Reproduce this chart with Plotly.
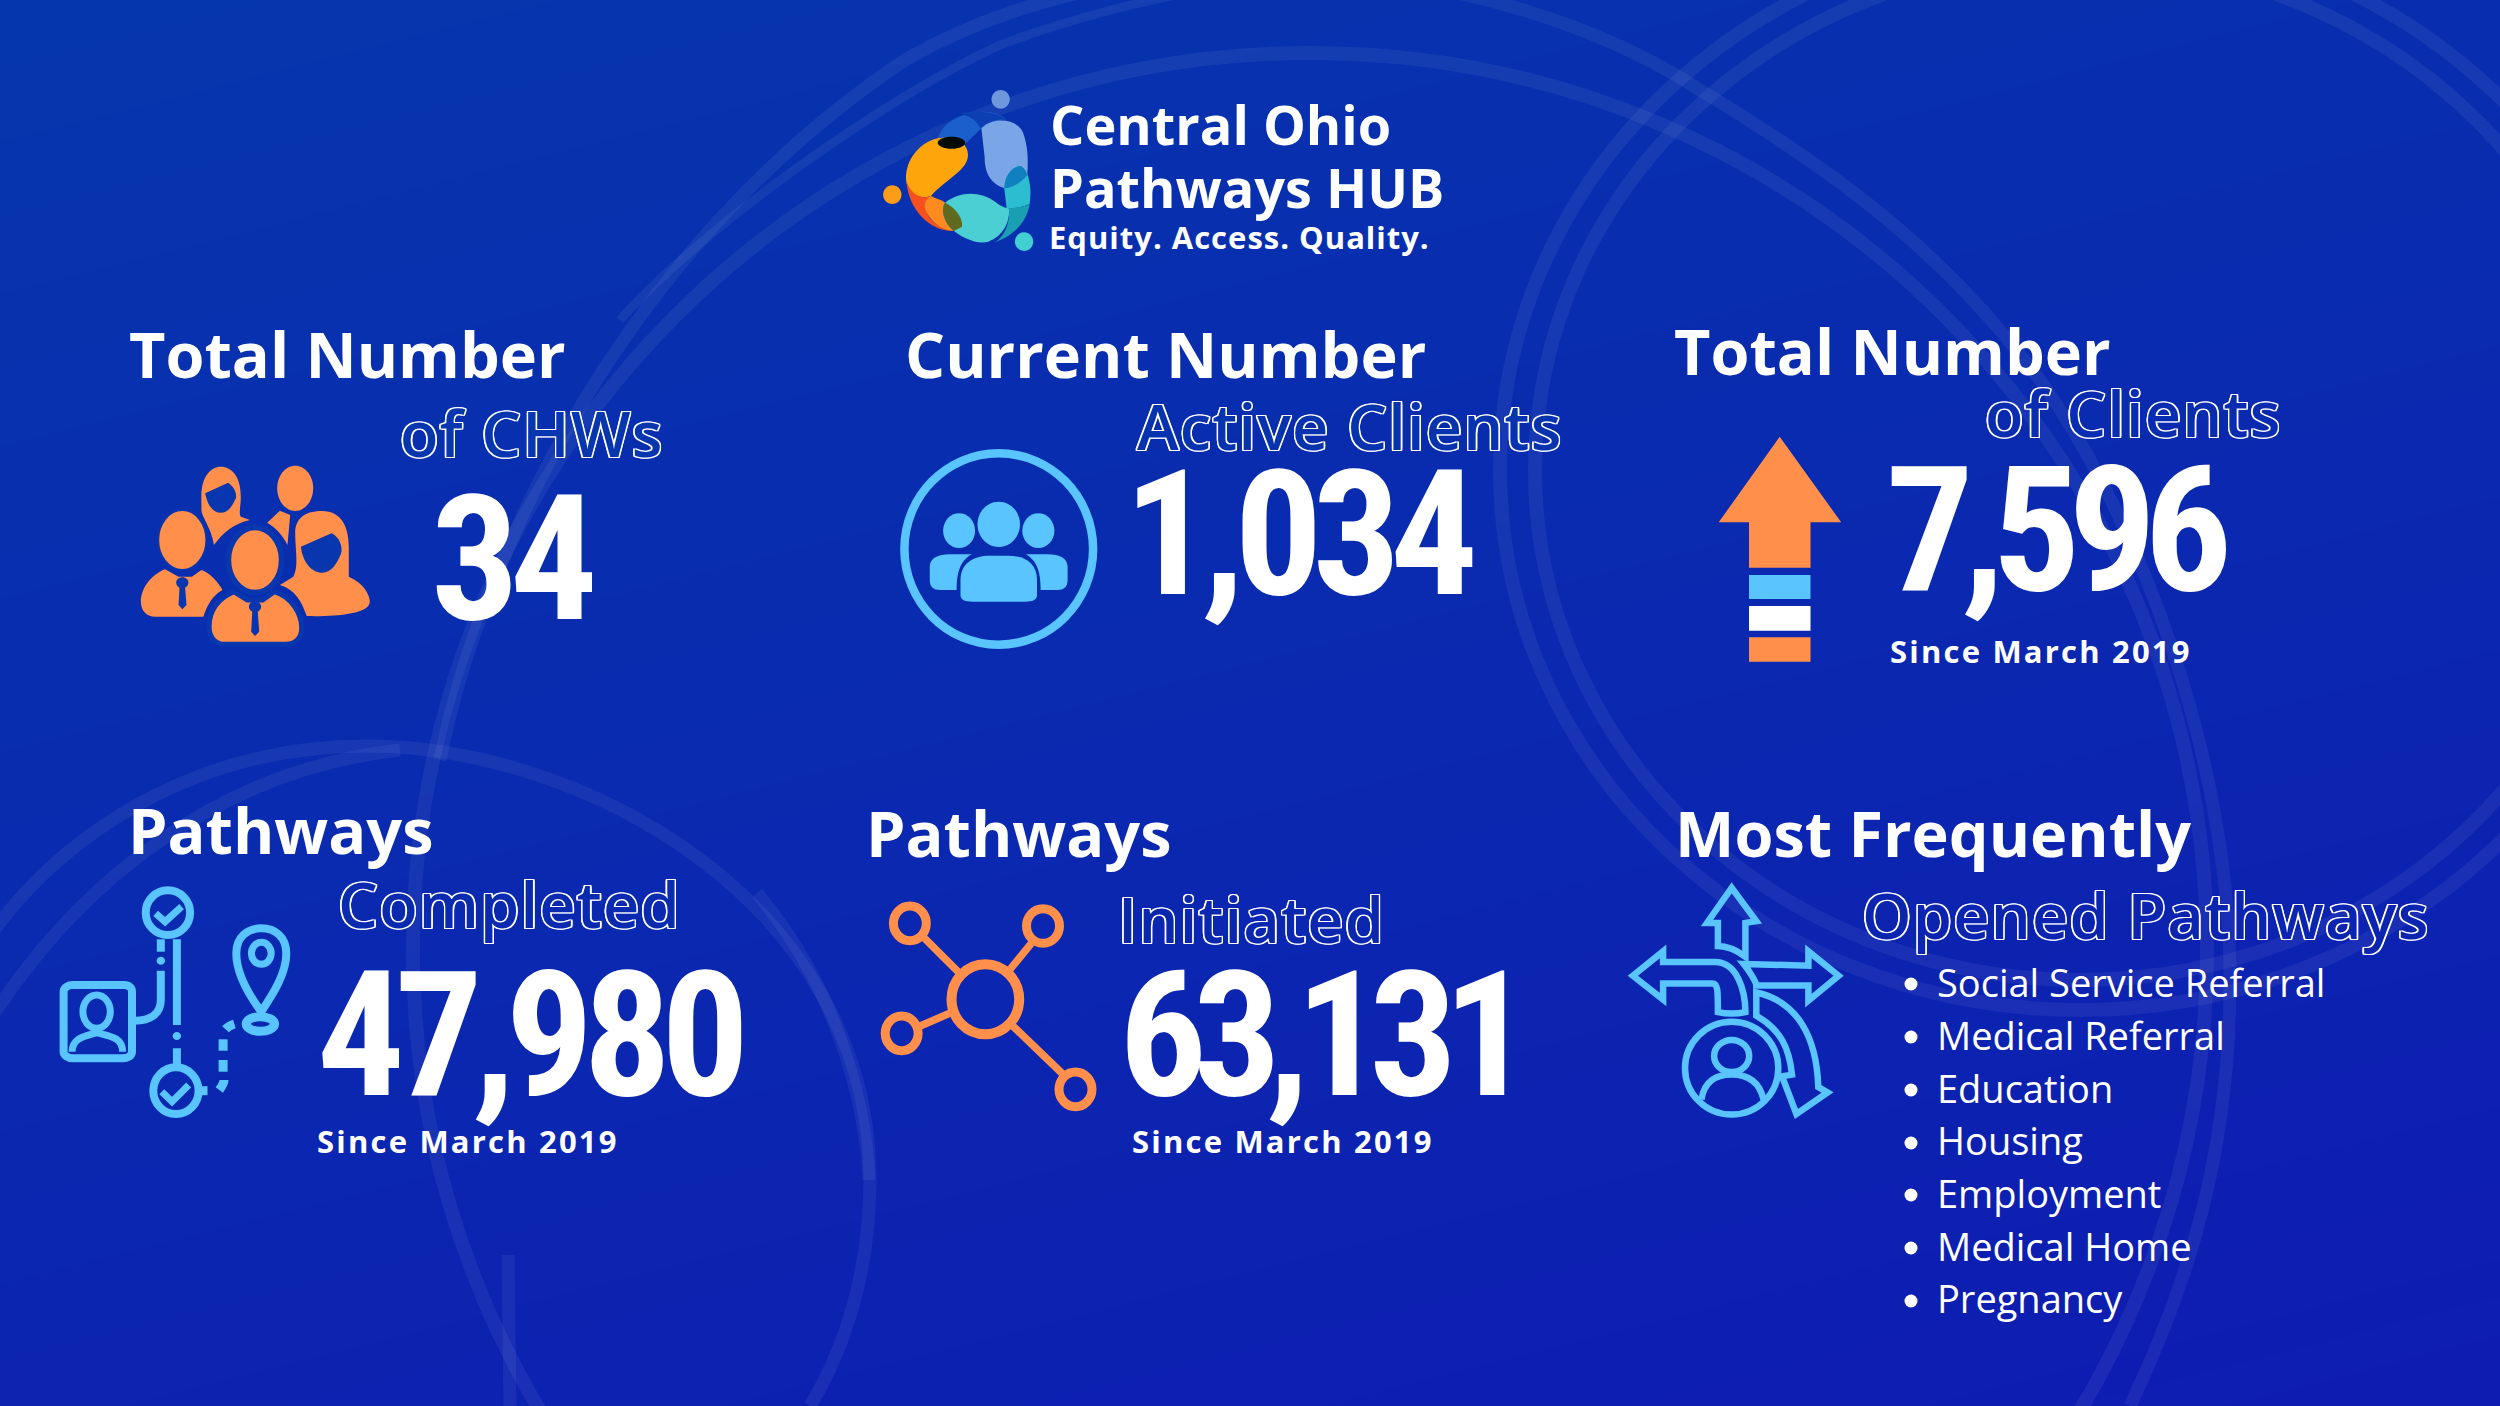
import re
import plotly.graph_objects as go

# texts (x = left edge, y = baseline, in picture pixels)
TITLE_LINES = ["Central Ohio", "Pathways HUB", "Equity. Access. Quality."]
TITLE_X = [1049, 1049, 1048]
TITLE_Y = [145, 208, 249]
TITLE_SIZE = [54, 54, 31]
TITLE_SPACING = [0, 0, 1]

HEADINGS = ["Total Number", "Current Number", "Total Number", "Pathways", "Pathways", "Most Frequently"]
HEADING_X = [128, 904, 1673, 127, 865, 1674]
HEADING_Y = [378, 378, 375, 854, 857, 857]

OUTLINED = ["of CHWs", "Active Clients", "of Clients", "Completed", "Initiated", "Opened Pathways"]
OUTLINED_X = [399, 1136, 1984, 337, 1117, 1861]
OUTLINED_Y = [457, 450, 437, 928, 943, 939]
OUTLINED_FILL = ["#0736ae", "#0733ae", "#0a2cb0", "#0a2aaf", "#0b27b0", "#0c25b1"]

NUMBERS = ["34", "1,034", "7,596", "47,980", "63,131"]
NUMBER_X = [430, 1123, 1885, 316, 1118]
NUMBER_Y = [619, 594, 590, 1095, 1095]
NUMBER_SPACING = [-9, -10, -12, -10, -14]

SINCE_TEXT = "Since March 2019"
SINCE_X = [1889, 316, 1131]
SINCE_Y = [663, 1153, 1153]

PATHWAY_LIST = ["Social Service Referral", "Medical Referral", "Education", "Housing",
                "Employment", "Medical Home", "Pregnancy"]
LIST_Y = [997, 1050, 1103, 1155, 1208, 1261, 1313]
LIST_X = 1936
BULLET_X = [1911, 1911, 1911, 1911, 1911, 1911, 1911]
BULLET_Y = [984, 1037, 1090, 1143, 1195, 1248, 1301]

# faint rings behind everything
RING_CX = [1310, 2080, 2080]
RING_CY = [950, 470, 470]
RING_RX = [897, 580, 545]
RING_RY = [897, 540, 510]
ARCS = [
    "M 440 760 C 480 560 620 250 905 60 C 1150 -80 1500 -40 1700 90 C 1850 180 1950 260 2040 380 "
    "C 2140 520 2230 760 2230 980 C 2230 1150 2190 1280 2130 1406",
    "M 620 320 C 700 230 880 100 1000 45 C 1080 15 1150 0 1200 -10",
    "M -20 950 C 60 830 200 746 367 746 C 580 746 870 900 870 1180 C 870 1260 850 1340 810 1406",
    "M -10 1020 C 80 880 220 770 400 750",
    "M 757 893 C 830 980 865 1090 869 1180",
    "M 508 1255 L 510 1406",
]

BG_TOP = "#0538ad"
BG_BOTTOM = "#0f1ab2"
BAND = "rgba(255,255,255,0.06)"
ORANGE = "#ff8f4b"
BLUE = "#5ac4ff"
FONT = "Open Sans"
NUMBER_FONT = "Roboto"

# crops the icons were traced in: left, top, x scale, y scale
C_PLAIN = (0, 0, 1, 1)
C_LOGO = (800, 60, 2.178, 3)
C_PEOPLE = (100, 300, 2.613, 3)
C_RING = (860, 300, 2.119, 3)
C_ARROW = (1640, 300, 2.376, 3)
C_ROUTE = (40, 780, 2.119, 3)
C_NET = (860, 780, 2.306, 3)
C_ROADS = (1600, 780, 1.823, 2.8)


def tx(path, crop):
    ox, oy, fx, fy = crop
    nums = iter(range(10000))
    def conv(m):
        i = next(nums)
        v = float(m.group())
        return f"{ox + v / fx:.1f}" if i % 2 == 0 else f"{oy + v / fy:.1f}"
    return re.sub(r"-?\d+\.?\d*", conv, path)


def ell(cx, cy, rx, ry):
    kx, ky = rx * 0.5523, ry * 0.5523
    return (f"M {cx - rx} {cy} C {cx - rx} {cy - ky} {cx - kx} {cy - ry} {cx} {cy - ry} "
            f"C {cx + kx} {cy - ry} {cx + rx} {cy - ky} {cx + rx} {cy} "
            f"C {cx + rx} {cy + ky} {cx + kx} {cy + ry} {cx} {cy + ry} "
            f"C {cx - kx} {cy + ry} {cx - rx} {cy + ky} {cx - rx} {cy} Z")


fig = go.Figure()

fig.add_trace(go.Heatmap(
    x=[-100, 2600], y=[-100, 1500],
    z=[[0.0, 0.3], [0.7, 1.0]],
    zsmooth="best", zmin=0, zmax=1,
    colorscale=[[0, BG_TOP], [1, BG_BOTTOM]],
    showscale=False, hoverinfo="skip",
))

fig.add_trace(go.Scatter(
    x=BULLET_X, y=BULLET_Y, mode="markers",
    marker=dict(color="white", size=13),
    showlegend=False, hoverinfo="skip",
))


def draw(path, crop, fill=None, line=None, width=0):
    fig.add_shape(
        type="path", path=tx(path, crop),
        fillcolor=fill if fill else "rgba(0,0,0,0)",
        line=dict(color=line if line else "rgba(0,0,0,0)", width=width),
        xref="x", yref="y",
    )


for cx, cy, rx, ry in zip(RING_CX, RING_CY, RING_RX, RING_RY):
    draw(ell(cx, cy, rx, ry), C_PLAIN, line=BAND, width=14)
for i, arc in enumerate(ARCS):
    draw(arc, C_PLAIN, line=BAND, width=9 if i == 1 else 13)

# logo
draw(ell(437, 118, 20, 28), C_LOGO, fill="#6f97dc")
draw(ell(201, 404, 20, 28), C_LOGO, fill="#fd9c18")
draw(ell(488, 545, 20, 28), C_LOGO, fill="#42cfd2")
draw("M 300 235 C 310 190 350 155 400 155 C 420 155 440 165 450 178 C 420 180 395 200 395 205 L 355 258 Z", C_LOGO, fill="#1a5fcc")
draw("M 345 160 C 380 150 430 155 450 178 C 425 175 405 190 393 205 C 385 180 365 165 345 160 Z", C_LOGO, fill="#0c3fb2")
draw("M 395 205 C 420 170 470 175 485 215 C 497 260 497 300 495 345 C 480 370 460 385 445 385 C 415 370 402 340 402 290 Z", C_LOGO, fill="#7aa6e8")
draw("M 300 235 C 340 225 366 250 366 285 C 366 330 320 355 285 408 C 260 420 238 400 232 370 C 225 310 255 250 300 235 Z", C_LOGO, fill="#ffa50c")
draw("M 232 362 C 240 400 262 420 285 408 C 268 425 272 460 290 485 C 305 500 320 510 335 513 C 285 515 235 450 232 362 Z", C_LOGO, fill="#f6501e")
draw("M 285 408 C 295 415 310 420 316 428 C 305 450 315 490 335 513 C 305 510 280 480 272 445 C 270 430 275 415 285 408 Z", C_LOGO, fill="#ff8a1f")
draw("M 316 428 C 350 390 395 395 425 425 C 435 437 445 443 455 445 C 458 490 440 530 410 545 C 385 555 350 530 335 512 C 315 490 305 450 316 428 Z", C_LOGO, fill="#4bcfd2")
draw("M 316 428 C 335 440 355 470 353 500 L 335 513 C 315 490 305 450 316 428 Z", C_LOGO, fill="#5f6a1f")
draw("M 445 385 C 445 345 465 318 480 318 C 500 330 505 390 500 432 C 485 442 465 445 450 445 Z", C_LOGO, fill="#2cbdd0")
draw("M 445 385 C 445 345 465 318 480 318 C 488 322 493 335 495 345 C 480 370 460 385 445 385 Z", C_LOGO, fill="#1180bf")
draw("M 450 445 C 470 445 490 440 500 432 C 495 480 470 525 425 546 C 445 530 458 490 455 445 Z", C_LOGO, fill="#1a9fb2")
draw(ell(330, 248, 30, 18), C_LOGO, fill="#000a0a")

# people icon, back to front with a halo in the background colour
draw("M 265 600 C 262 530 290 500 315 500 C 345 500 368 530 368 590 C 368 620 362 640 368 650 L 392 660 C 350 670 320 700 298 735 C 290 680 265 650 265 630 Z", C_PEOPLE, fill=ORANGE)
draw("M 275 580 L 335 548 C 350 560 358 580 355 595 C 345 620 335 638 315 638 C 295 638 280 615 275 580 Z", C_PEOPLE, fill="#0736ae")
draw(ell(510, 565, 47, 68), C_PEOPLE, fill=ORANGE)
draw("M 437 668 L 470 632 L 497 645 L 490 735 C 475 700 455 680 437 668 Z", C_PEOPLE, fill=ORANGE)
draw("M 510 700 C 510 660 530 633 580 633 C 630 633 650 680 650 740 L 650 830 C 690 850 705 885 705 905 C 705 945 600 950 540 948 C 525 900 510 870 470 855 L 505 830 C 520 800 510 750 510 700 Z", C_PEOPLE, fill=ORANGE)
draw("M 525 740 L 605 700 C 625 710 635 740 630 760 C 620 790 605 818 580 818 C 555 818 530 790 525 740 Z", C_PEOPLE, fill="#0736ae")
draw(ell(215, 720, 63, 90), C_PEOPLE, fill=ORANGE, line="#0736ae", width=2)
draw("M 107 905 C 107 860 140 820 170 808 L 205 830 L 240 830 L 265 810 C 290 820 310 850 320 870 C 295 885 280 915 270 950 L 145 950 C 120 950 107 930 107 905 Z", C_PEOPLE, fill=ORANGE)
draw(ell(215, 848, 16, 16), C_PEOPLE, fill="#0736ae")
draw("M 208 860 L 222 860 L 226 915 L 215 928 L 205 915 Z", C_PEOPLE, fill="#0736ae")
draw(ell(405, 780, 70, 98), C_PEOPLE, fill=ORANGE, line="#0736ae", width=6)
draw("M 285 980 C 285 930 310 895 350 875 L 385 900 L 425 900 L 455 875 C 500 890 527 940 527 985 C 527 1015 510 1033 485 1033 L 325 1033 C 300 1033 285 1010 285 980 Z", C_PEOPLE, fill=ORANGE, line="#0736ae", width=5)
draw(ell(405, 920, 16, 16), C_PEOPLE, fill="#0736ae")
draw("M 398 932 L 412 932 L 416 995 L 405 1008 L 395 995 Z", C_PEOPLE, fill="#0736ae")

# ring with three people
draw(ell(294, 747, 200, 287), C_RING, line=BLUE, width=8.5)
draw(ell(294, 673, 45, 68), C_RING, fill=BLUE)
draw(ell(210, 692, 34, 52), C_RING, fill=BLUE)
draw(ell(378, 692, 34, 52), C_RING, fill=BLUE)
draw("M 148 800 C 148 775 165 763 190 763 L 237 763 C 215 780 205 810 205 870 L 170 870 C 155 870 148 860 148 840 Z", C_RING, fill=BLUE)
draw("M 440 800 C 440 775 423 763 398 763 L 351 763 C 373 780 383 810 383 870 L 418 870 C 433 870 440 860 440 840 Z", C_RING, fill=BLUE)
draw("M 213 840 C 213 790 240 767 275 767 L 313 767 C 350 767 375 790 375 840 L 375 885 C 375 900 365 905 350 905 L 238 905 C 223 905 213 900 213 885 Z", C_RING, fill=BLUE)

# up arrow
draw("M 332 410 L 478 667 L 405 667 L 405 803 L 259 803 L 259 667 L 187 667 Z", C_ARROW, fill=ORANGE)
draw("M 259 825 L 405 825 L 405 897 L 259 897 Z", C_ARROW, fill=BLUE)
draw("M 259 918 L 405 918 L 405 992 L 259 992 Z", C_ARROW, fill="white")
draw("M 259 1012 L 405 1012 L 405 1085 L 259 1085 Z", C_ARROW, fill=ORANGE)

# route icon
draw(ell(271, 398, 47, 67), C_ROUTE, line=BLUE, width=8)
draw("M 245 400 L 265 425 L 300 380", C_ROUTE, line=BLUE, width=7)
draw("M 290 478 L 290 735", C_ROUTE, line=BLUE, width=8)
draw("M 256 478 L 256 515", C_ROUTE, line=BLUE, width=8)
draw(ell(256, 542, 9, 12), C_ROUTE, fill=BLUE)
draw("M 256 572 L 256 660 C 256 700 235 722 200 722", C_ROUTE, line=BLUE, width=8)
draw("M 68 615 L 178 615 C 190 615 195 625 195 635 L 195 815 C 195 828 185 835 175 835 L 70 835 C 58 835 50 825 50 815 L 50 635 C 50 625 58 615 68 615 Z", C_ROUTE, line=BLUE, width=8)
draw(ell(120, 695, 29, 50), C_ROUTE, line=BLUE, width=7)
draw("M 68 815 C 68 770 100 768 120 758 C 145 768 175 770 175 815", C_ROUTE, line=BLUE, width=7)
draw(ell(290, 768, 9, 12), C_ROUTE, fill=BLUE)
draw("M 290 805 L 290 860", C_ROUTE, line=BLUE, width=8)
draw(ell(288, 932, 48, 70), C_ROUTE, line=BLUE, width=8)
draw("M 258 935 L 280 965 L 315 915", C_ROUTE, line=BLUE, width=7)
draw("M 340 932 L 355 932", C_ROUTE, line=BLUE, width=9)
draw("M 380 930 C 385 920 390 910 390 900", C_ROUTE, line=BLUE, width=9)
draw("M 388 840 L 388 875", C_ROUTE, line=BLUE, width=9)
draw("M 388 778 L 388 812", C_ROUTE, line=BLUE, width=9)
draw("M 393 748 C 398 740 405 735 412 732", C_ROUTE, line=BLUE, width=9)
draw("M 469 695 C 440 640 416 580 416 520 C 416 470 440 445 469 445 C 498 445 522 470 522 520 C 522 580 495 640 469 695 Z", C_ROUTE, line=BLUE, width=8)
draw(ell(469, 520, 21, 33), C_ROUTE, line=BLUE, width=7)
draw(ell(467, 732, 30, 22), C_ROUTE, line=BLUE, width=9)

# network icon
draw(ell(289, 658, 78, 105), C_NET, line=ORANGE, width=10)
draw(ell(115, 430, 38, 52), C_NET, line=ORANGE, width=9)
draw(ell(422, 438, 38, 52), C_NET, line=ORANGE, width=9)
draw(ell(96, 760, 38, 52), C_NET, line=ORANGE, width=9)
draw(ell(497, 928, 38, 52), C_NET, line=ORANGE, width=9)
draw("M 145 470 L 230 580", C_NET, line=ORANGE, width=7.5)
draw("M 395 490 L 345 570", C_NET, line=ORANGE, width=7.5)
draw("M 135 740 L 215 695", C_NET, line=ORANGE, width=7.5)
draw("M 350 735 L 470 885", C_NET, line=ORANGE, width=7.5)

# crossroads icon
draw("M 215 465 L 215 400 L 195 400 L 240 302 L 285 395 L 265 400 L 265 495 C 250 478 230 465 215 465 Z", C_ROADS, line=BLUE, width=6.5)
draw("M 210 510 L 115 510 L 115 480 L 60 548 L 115 615 L 115 570 L 205 570 C 215 570 215 590 215 650 C 230 655 250 655 265 650 C 265 590 250 510 210 510 Z", C_ROADS, line=BLUE, width=6.5)
draw("M 262 515 L 380 520 L 380 480 L 435 548 L 380 618 L 380 575 L 285 575 C 285 565 270 530 262 515 Z", C_ROADS, line=BLUE, width=6.5)
draw("M 285 595 C 360 620 395 720 398 860 L 415 875 L 358 935 L 332 830 L 350 825 C 345 750 330 700 285 660 Z", C_ROADS, line=BLUE, width=6.5)
draw(ell(240, 807, 85, 130), C_ROADS, line=BLUE, width=6.5)
draw(ell(240, 773, 32, 45), C_ROADS, line=BLUE, width=6.5)
draw("M 185 895 C 190 840 215 825 240 825 C 265 825 290 840 298 895", C_ROADS, line=BLUE, width=6.5)


def label(text, x, base, size, weight=700, color="white", shadow=None, css=None, family=FONT, descent=0.293):
    if css:
        text = f'<span style="{css}">{text}</span>'
    fig.add_annotation(
        x=x, y=base + descent * size + 1, text=text,
        xref="x", yref="y", xanchor="left", yanchor="bottom",
        showarrow=False, borderpad=0,
        font=dict(family=family, size=size, color=color, weight=weight,
                  shadow=shadow if shadow else "none"),
    )


def outline(w):
    offs = [(w, 0), (-w, 0), (0, w), (0, -w), (w, w), (-w, w), (w, -w), (-w, -w)]
    return ", ".join(f"{a}px {b}px 0 #ffffff" for a, b in offs)


for t, x, y, s, ls in zip(TITLE_LINES, TITLE_X, TITLE_Y, TITLE_SIZE, TITLE_SPACING):
    label(t, x, y, s, css=f"letter-spacing:{ls}px")
for t, x, y in zip(HEADINGS, HEADING_X, HEADING_Y):
    label(t, x, y, 63)
for t, x, y, c in zip(OUTLINED, OUTLINED_X, OUTLINED_Y, OUTLINED_FILL):
    label(t, x, y, 63, weight=600, color=c, shadow=outline(1.4), css="letter-spacing:1.2px")
for t, x, y, ls in zip(NUMBERS, NUMBER_X, NUMBER_Y, NUMBER_SPACING):
    label(t, x, y, 174, weight=700, css=f"font-stretch:75%;letter-spacing:{ls}px",
          family=NUMBER_FONT, descent=0.244)
for x, y in zip(SINCE_X, SINCE_Y):
    label(SINCE_TEXT, x, y, 31, css="letter-spacing:2.2px")
for t, y in zip(PATHWAY_LIST, LIST_Y):
    label(t, LIST_X, y, 38, weight=400)

fig.update_layout(
    width=2500, height=1406,
    margin=dict(l=0, r=0, t=0, b=0),
    paper_bgcolor=BG_TOP,
    plot_bgcolor=BG_TOP,
    showlegend=False,
    xaxis=dict(range=[0, 2500], visible=False, fixedrange=True),
    yaxis=dict(range=[1406, 0], visible=False, fixedrange=True),
)

fig.write_html("out.html", config=dict(displayModeBar=False),
               post_script="document.body.style.margin='0';")
